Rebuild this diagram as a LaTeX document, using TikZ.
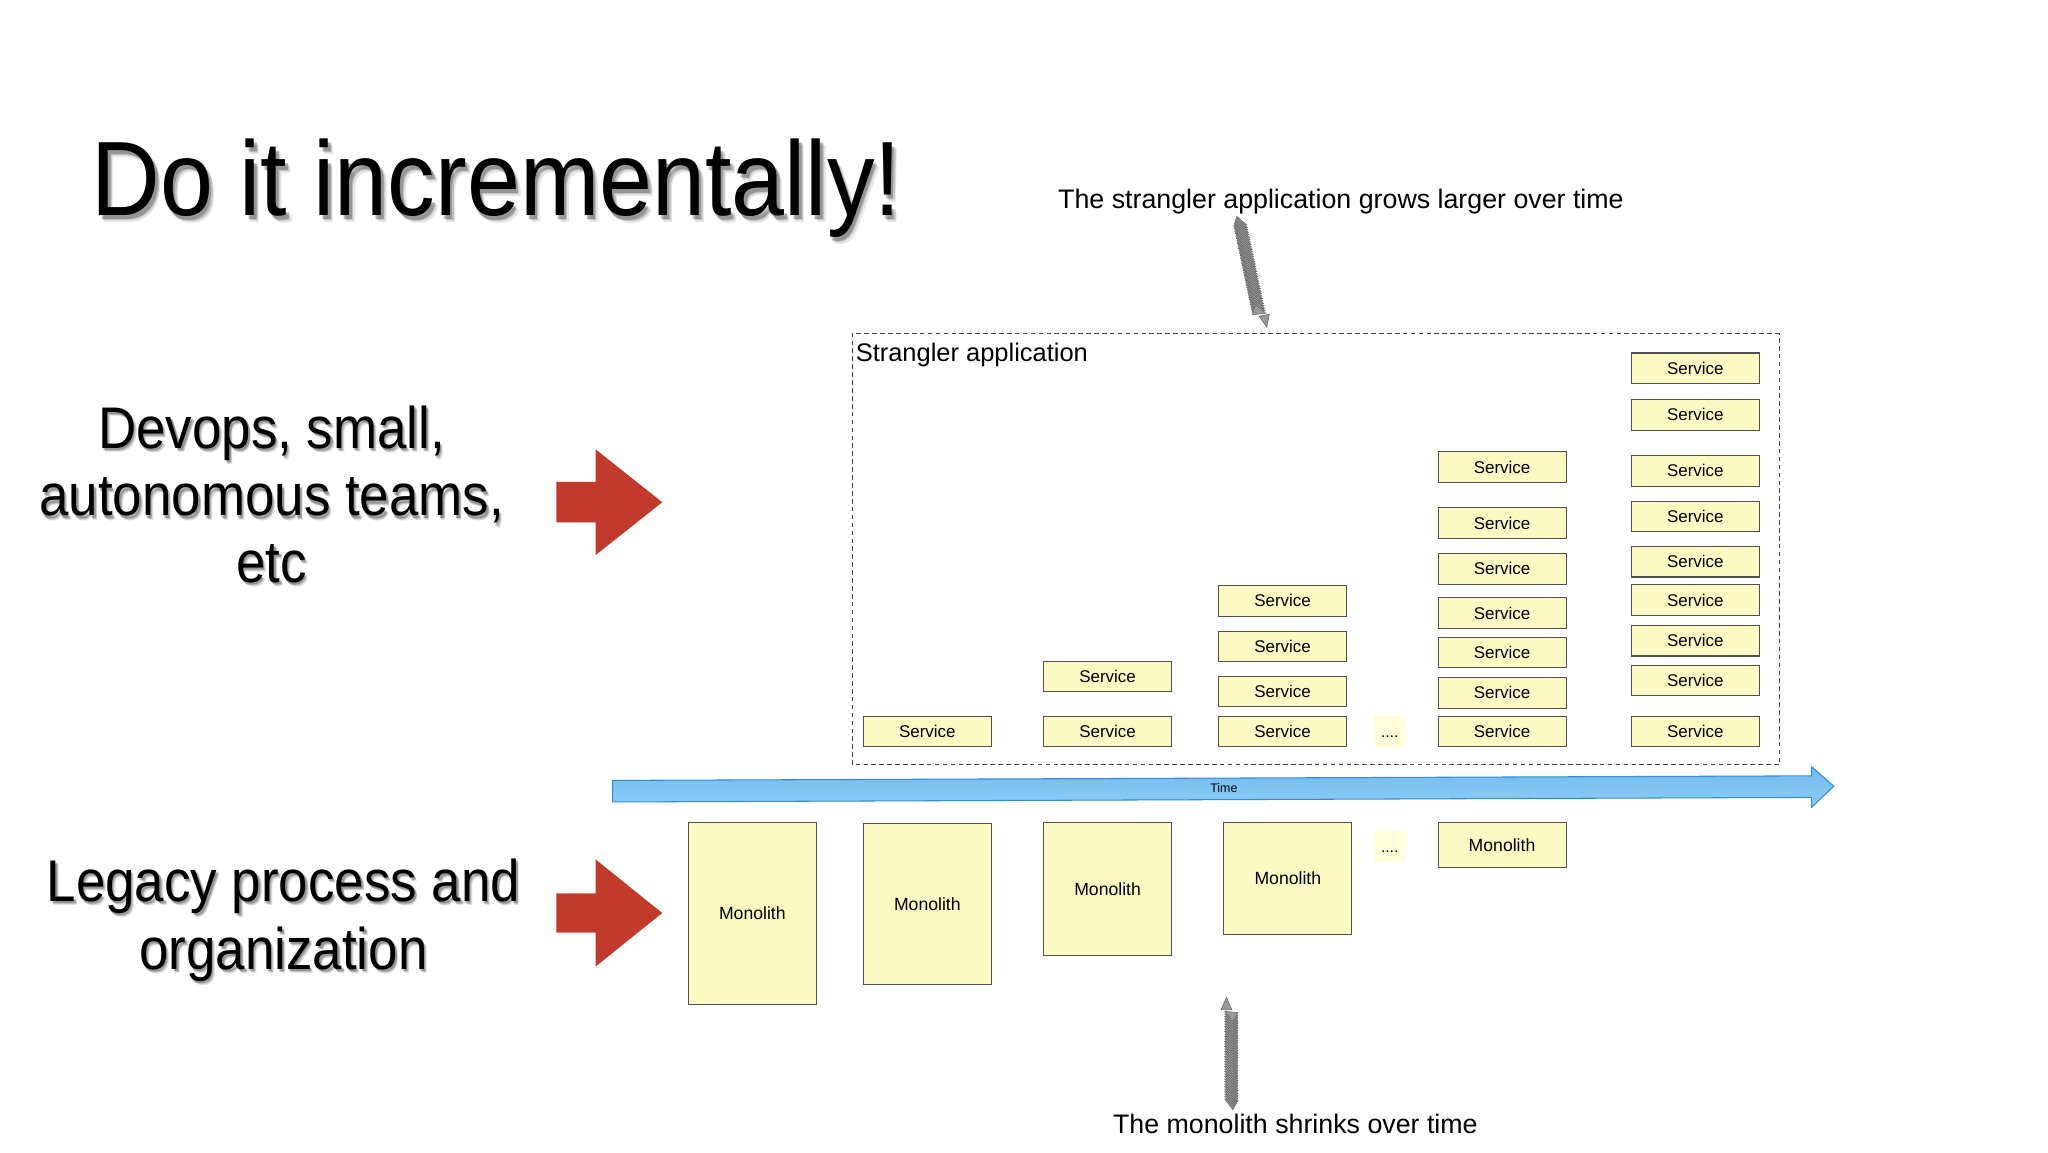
\documentclass[tikz,border=0pt]{standalone}
\usepackage{fontspec}
\setmainfont{Liberation Sans}
\usetikzlibrary{arrows.meta,calc,decorations.markings}
\definecolor{boxyellow}{RGB}{252,250,194}
\definecolor{dotyellow}{RGB}{255,253,218}
\definecolor{boxline}{RGB}{80,80,80}
\definecolor{arrowred}{RGB}{194,58,44}
\definecolor{timetop}{RGB}{112,186,238}
\definecolor{timebot}{RGB}{142,206,247}
\definecolor{timeline}{RGB}{52,140,210}
\newcommand{\shadowtext}[5]{% name, position, options, shadow offset scale, text
  \foreach \dx/\dy/\op [count=\k] in {1/1.5/0.22, 1.6/2.2/0.16, 2.2/3/0.1}
    \node[#3, opacity=\op] (#1-sh\k) at ($(#2)+(#4*\dx,#4*\dy)$) {#5};
  \node[#3] (#1) at (#2) {#5};}
\begin{document}
\begin{tikzpicture}[x=1pt,y=-1pt,scale=0.9898,transform shape,
  svc/.style={draw=boxline, fill=boxyellow, line width=0.8pt, minimum width=98pt,
    minimum height=23.5pt, inner sep=0pt, font=\fontsize{13}{13}\selectfont},
  mono/.style={draw=boxline, fill=boxyellow, line width=0.8pt, minimum width=98pt,
    inner sep=0pt, anchor=north, font=\fontsize{13.5}{13.5}\selectfont},
  dotsbox/.style={fill=dotyellow, minimum width=24pt, minimum height=24pt, inner sep=0pt,
    text height=9pt, text depth=0pt, font=\fontsize{12}{12}\selectfont},
  bigtext/.style={anchor=base, inner sep=0pt, xscale=0.9, font=\fontsize{45}{45}\selectfont},
  note/.style={anchor=base west, inner sep=0pt, font=\fontsize{20.5}{20.5}\selectfont},
  hatcharrow/.style={draw=black!20, line width=0.2pt,
    -{Triangle[length=10pt,width=8.5pt,fill=black!40,color=black!60,line width=0.4pt]},
    decoration={markings, mark=between positions 0.01 and 0.87 step 1.9pt with
      {\draw[black!75, line width=0.4pt] (-1pt,-1.8pt) -- (1pt,1.8pt);}},
    postaction={decorate}},
  redarrow/.style={fill=arrowred}
]
\useasboundingbox (0,0) rectangle (1568,882);
\fill[white] (0,0) rectangle (1568,882);

% title
\shadowtext{title}{70,165}{anchor=base west, inner sep=0pt, xscale=0.9, font=\fontsize{81}{81}\selectfont}{1.8}{Do it incrementally!}

% left texts
\shadowtext{dev1}{208,343}{bigtext}{1.1}{Devops, small,}
\shadowtext{dev2}{208,395}{bigtext}{1.1}{autonomous teams,}
\shadowtext{dev3}{208,446}{bigtext}{1.1}{etc}
\shadowtext{leg1}{217,690}{bigtext}{1.1}{Legacy process and}
\shadowtext{leg2}{217,742}{bigtext}{1.1}{organization}

% red arrows
\fill[redarrow] (426,369) -- (456,369) -- (456,344) -- (507,384.5) -- (456,425) -- (456,400) -- (426,400) -- cycle;
\fill[redarrow] (426,684) -- (456,684) -- (456,658) -- (507,699) -- (456,740) -- (456,714) -- (426,714) -- cycle;

% notes
\node[note] (topnote) at (810,160) {The strangler application grows larger over time};
\node[note] (botnote) at (852,868) {The monolith shrinks over time};

% strangler box
\node[draw=black!75, line width=0.9pt, dash pattern=on 3.5pt off 2.5pt, anchor=north west,
  minimum width=710pt, minimum height=330pt, inner sep=0pt] (sbox) at (652,255) {};
\node[anchor=base west, inner sep=0pt, font=\fontsize{19.5}{19.5}\selectfont] (slabel) at (655,277) {Strangler application};

% hatched arrows
\coordinate (h1s) at (953,171);
\coordinate (h1e) at (970,251);
\draw[hatcharrow] (h1s) -- (h1e);
\coordinate (h2s) at (939,843);
\coordinate (h2e) at (939,763);
\draw[hatcharrow] (h2s) -- (h2e);

% time arrow
\shade[top color=timetop, bottom color=timebot, draw=timeline, line width=0.8pt]
  (469,597.5) -- (1387,594) -- (1387,587) -- (1404,602) -- (1387,618) -- (1387,610.5) -- (469,614) -- cycle;
\node[inner sep=0pt, font=\fontsize{9.5}{9.5}\selectfont] (time) at (937,603.5) {Time};

% services column 1
\node[svc] (s11) at (710,560) {Service};
% column 2
\node[svc] (s21) at (848,560) {Service};
\node[svc] (s22) at (848,518) {Service};
% column 3
\node[svc] (s31) at (982,560) {Service};
\node[svc] (s32) at (982,529.5) {Service};
\node[svc] (s33) at (982,495) {Service};
\node[svc] (s34) at (982,460) {Service};
% dots
\node[dotsbox] (sdots) at (1064,560) {....};
% column 4
\node[svc] (s41) at (1150,560) {Service};
\node[svc] (s42) at (1150,530.5) {Service};
\node[svc] (s43) at (1150,499.5) {Service};
\node[svc] (s44) at (1150,469.5) {Service};
\node[svc] (s45) at (1150,435.5) {Service};
\node[svc] (s46) at (1150,400.5) {Service};
\node[svc] (s47) at (1150,357.5) {Service};
% column 5
\node[svc] (s51) at (1298,560) {Service};
\node[svc] (s52) at (1298,521) {Service};
\node[svc] (s53) at (1298,490.5) {Service};
\node[svc] (s54) at (1298,459.5) {Service};
\node[svc] (s55) at (1298,430) {Service};
\node[svc] (s56) at (1298,395.5) {Service};
\node[svc] (s57) at (1298,360.5) {Service};
\node[svc] (s58) at (1298,317.5) {Service};
\node[svc] (s59) at (1298,282) {Service};

% monoliths
\node[mono, minimum height=140pt] (m1) at (576,629) {Monolith};
\node[mono, minimum height=123pt] (m2) at (710,630) {Monolith};
\node[mono, minimum height=102pt] (m3) at (848,629) {Monolith};
\node[mono, minimum height=86pt] (m4) at (986,629) {Monolith};
\node[dotsbox] (mdots) at (1064,648) {....};
\node[mono, minimum height=35pt] (m5) at (1150,629) {Monolith};
\end{tikzpicture}
\end{document}
